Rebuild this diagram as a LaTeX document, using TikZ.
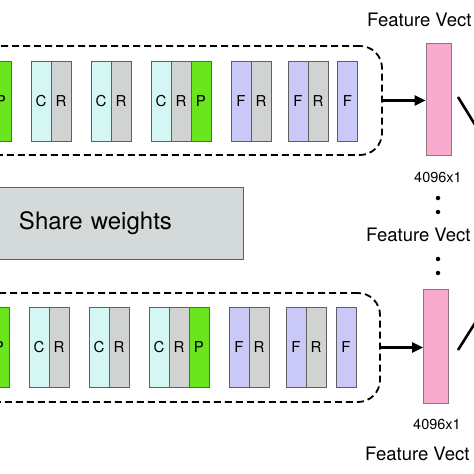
\documentclass[tikz,border=0pt]{standalone}
\usepackage{fontspec}
\setmainfont{TeX Gyre Heros}
\usetikzlibrary{arrows.meta}
\definecolor{cC}{HTML}{D4F7F4}
\definecolor{cR}{HTML}{D1D3D3}
\definecolor{cP}{HTML}{6BE61E}
\definecolor{cF}{HTML}{C9C8F7}
\definecolor{cPink}{HTML}{F8ABCD}
\definecolor{cShare}{HTML}{D3DAD9}
\definecolor{cBorder}{HTML}{5F5F5F}
\tikzset{
  layer/.style={draw=cBorder, line width=0.9pt, minimum width=20pt, minimum height=80pt, inner sep=0pt, font=\fontsize{15}{17}\selectfont},
  lc/.style={layer, fill=cC},
  lr/.style={layer, fill=cR},
  lp/.style={layer, fill=cP},
  lf/.style={layer, fill=cF},
  dbox/.style={draw=black, line width=1.8pt, dash pattern=on 7pt off 4pt, rounded corners=22pt, inner sep=0pt},
  vec/.style={draw=cBorder!70!cPink, line width=0.9pt, fill=cPink, minimum width=25pt, inner sep=0pt},
  arr/.style={line width=2.6pt, -{Triangle[length=11pt,width=10pt]}},
  slash/.style={line width=2.6pt},
  feat/.style={anchor=west, inner sep=0pt, font=\fontsize{18.5}{21}\selectfont},
  dim/.style={inner sep=0pt, font=\fontsize{14.5}{16}\selectfont},
  vdot/.style={circle, fill=black, minimum size=4.5pt, inner sep=0pt},
}
\begin{document}
\begin{tikzpicture}[x=1pt, y=-1pt]
\useasboundingbox (0,0) rectangle (474,474);
\clip (0,0) rectangle (474,474);
% top network
\node[dbox, minimum width=412pt, minimum height=109pt] (topbox) at (176,100.5) {};
\node[lp] (tp0) at (1,101) {P};
\node[lc] (tc1) at (41,101) {C};
\node[lr] (tr1) at (61,101) {R};
\node[lc] (tc2) at (101,101) {C};
\node[lr] (tr2) at (121,101) {R};
\node[lc] (tc3) at (161,101) {C};
\node[lr] (tr3) at (181,101) {R};
\node[lp] (tp3) at (201,101) {P};
\node[lf] (tf1) at (241,101) {F};
\node[lr] (tr4) at (261,101) {R};
\node[lf] (tf2) at (298,101) {F};
\node[lr] (tr5) at (318,101) {R};
\node[lf] (tf3) at (347.5,101) {F};
\node[vec, minimum height=112pt] (pinkT) at (438.5,99) {};
\draw[arr] (topbox.east) -- (topbox.east -| pinkT.west);
\node[feat] (featT) at (367,20) {Feature Vect};
\node[dim] (dimT) at (438,177) {4096x1};
\coordinate (slashTend) at (482,136);
\draw[slash] (458,97) -- (slashTend);
% middle
\node[draw=cBorder, line width=0.9pt, fill=cShare, minimum width=256pt, minimum height=72pt, text width=192pt, align=left, font=\fontsize{24}{28}\selectfont] (share) at (115,223) {Share weights};
\node[vdot] (d1) at (438,198) {};
\node[vdot] (d2) at (438,212) {};
\node[feat] (featM) at (366,235) {Feature Vect};
\node[vdot] (d3) at (438,259) {};
\node[vdot] (d4) at (438,273) {};
% bottom network
\node[dbox, minimum width=412pt, minimum height=109pt] (botbox) at (174,347.5) {};
\node[lp] (bp0) at (-1,347.5) {P};
\node[lc] (bc1) at (39,347.5) {C};
\node[lr] (br1) at (59,347.5) {R};
\node[lc] (bc2) at (99,347.5) {C};
\node[lr] (br2) at (119,347.5) {R};
\node[lc] (bc3) at (159,347.5) {C};
\node[lr] (br3) at (179,347.5) {R};
\node[lp] (bp3) at (199,347.5) {P};
\node[lf] (bf1) at (239,347.5) {F};
\node[lr] (br4) at (259,347.5) {R};
\node[lf] (bf2) at (296,347.5) {F};
\node[lr] (br5) at (316,347.5) {R};
\node[lf] (bf3) at (346,347.5) {F};
\node[vec, minimum height=114pt] (pinkB) at (436,346) {};
\draw[arr] (botbox.east) -- (botbox.east -| pinkB.west);
\node[dim] (dimB) at (437,424) {4096x1};
\node[feat] (featB) at (365,454) {Feature Vect};
\coordinate (slashBend) at (482,312);
\draw[slash] (458,350) -- (slashBend);
\end{tikzpicture}
\end{document}
